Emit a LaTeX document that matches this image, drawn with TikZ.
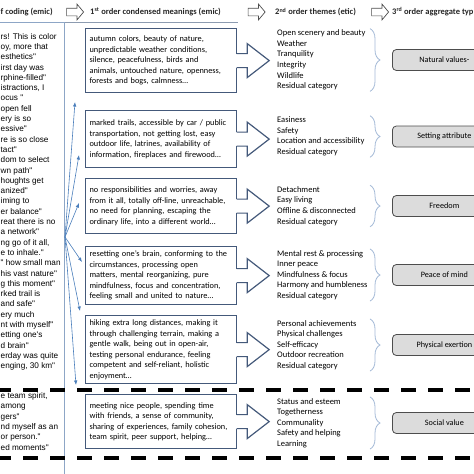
\documentclass[tikz,border=0pt]{standalone}
\usepackage{fontspec}
\setmainfont{Carlito}
\newfontfamily\quotefont{Liberation Sans}
\usetikzlibrary{arrows.meta, positioning, shapes.arrows, decorations.pathreplacing}
\definecolor{meanbd}{HTML}{44597A}
\definecolor{quotebd}{HTML}{8DA6C6}
\definecolor{bracebd}{HTML}{A3B9D6}
\definecolor{linkblue}{HTML}{4A7EBB}
\definecolor{aggfill}{HTML}{DCDCDC}
\definecolor{aggbd}{HTML}{4D4D4D}
\definecolor{headink}{HTML}{262626}
\definecolor{sepgray}{HTML}{8C9BB0}
\tikzset{
  headtext/.style={font=\fontsize{8.5}{10}\selectfont\bfseries, text=headink, inner sep=0pt, anchor=west},
  headarrow/.style={single arrow, draw=aggbd, line width=0.7pt, minimum height=17pt, inner sep=3.5pt,
    single arrow head extend=4pt, single arrow tip angle=100},
  meaning/.style={draw=meanbd, fill=white, line width=1.2pt, anchor=north west, minimum width=151pt,
    text width=143pt, inner xsep=4pt, align=left, font=\fontsize{8.3}{10.5}\selectfont},
  theme/.style={font=\fontsize{8.5}{10.6}\selectfont, align=left, inner sep=1pt, anchor=west},
  themebrace/.style={draw=bracebd, line width=0.8pt, decorate, decoration={brace, amplitude=10pt}},
  aggbox/.style={draw=aggbd, fill=aggfill, rounded corners=4pt, line width=0.8pt, minimum width=104pt,
    minimum height=21pt, anchor=west, font=\fontsize{8.2}{10}\selectfont},
  quotes/.style={font=\quotefont\fontsize{8.2}{10.3}\selectfont, align=left, inner sep=0pt, anchor=north west},
  link/.style={-{Latex[length=4.5pt, width=3.5pt]}, draw=linkblue, line width=0.6pt},
  divider/.style={draw=black, line width=3.2pt, dash pattern=on 15pt off 12pt, dash phase=4pt},
  pics/calloutarrow/.style={code={
    \fill[white] (-1.6,-7) rectangle (10,7);
    \draw[meanbd, line width=1.2pt, line join=miter] (-0.6,-7) -- (10,-7) -- (10,-17) -- (32,0)
      -- (10,17) -- (10,7) -- (-0.6,7);
  }}
}
\begin{document}
\begin{tikzpicture}[x=1pt, y=-1pt]
\useasboundingbox (0,0) rectangle (474,474);
\clip (0,0) rectangle (474,474);
% header row
\node[headtext] (h0) at (0.5,12) {f coding (emic)};
\node[headarrow] (ha0) at (73.5,12) {};
\node[headtext] (h1) at (90,12) {1\textsuperscript{st} order condensed meanings (emic)};
\node[headarrow] (ha1) at (255,12) {};
\node[headtext] (h2) at (275,12) {2\textsuperscript{nd} order themes (etic)};
\node[headarrow] (ha2) at (378.5,12) {};
\node[headtext] (h3) at (392,12) {3\textsuperscript{rd} order aggregate typ};
\draw[sepgray, line width=0.7pt] (0,22) -- (238,22);
% quotes panel
\node[draw=quotebd, line width=0.8pt, minimum width=80pt, minimum height=470pt, anchor=north east] (qbox) at (65,22) {};
\node[quotes] (q1) at (0.5,33) {rs! This is color\\oy, more that\\esthetics"\\irst day was\\rphine-filled"\\istractions, I\\ocus "\\open fell\\ery is so\\essive"\\re is so close\\tact"\\dom to select\\wn path"\\houghts get\\anized"\\iming to\\er balance"\\reat there is no\\a network"\\ng go of it all,\\e to inhale."\\" how small man\\his vast nature"\\g this moment"\\rked trail is\\and safe"\\ery much\\nt with myself"\\etting one's\\d brain"\\erday was quite\\enging, 30 km"};
\node[quotes] (q2) at (0.5,392.5) {e team spirit,\\among\\gers"\\nd myself as an\\or person."\\ed moments"};
% condensed meanings
\node[meaning, minimum height=64pt] (m1) at (85,28) {autumn colors, beauty of nature,\\unpredictable weather conditions,\\silence, peacefulness, birds and\\animals, untouched nature, openness,\\forests and bogs, calmness\dots};
\node[meaning, minimum height=57pt] (m2) at (85,110) {marked trails, accessible by car / public\\transportation, not getting lost, easy\\outdoor life, latrines, availability of\\information, fireplaces and firewood\dots};
\node[meaning, minimum height=55pt] (m3) at (85,178) {no responsibilities and worries, away\\from it all, totally off-line, unreachable,\\no need for planning, escaping the\\ordinary life, into a different world\dots};
\node[meaning, minimum height=58pt] (m4) at (85,246) {resetting one’s brain, conforming to the\\circumstances, processing open\\matters, mental reorganizing, pure\\mindfulness, focus and concentration,\\feeling small and united to nature\dots};
\node[meaning, minimum height=68pt] (m5) at (85,315) {hiking extra long distances, making it\\through challenging terrain, making a\\gentle walk, being out in open-air,\\testing personal endurance, feeling\\competent and self-reliant, holistic\\enjoyment\dots};
\node[meaning, minimum height=54pt] (m6) at (85,394) {meeting nice people, spending time\\with friends, a sense of community,\\sharing of experiences, family cohesion,\\team spirit, peer support, helping\dots};
\foreach \m in {m1,m2,m3,m4,m5,m6} \pic at (\m.east) {calloutarrow};
% themes
\node[theme] (t1) at (276,60) {Open scenery and beauty\\Weather\\Tranquility\\Integrity\\Wildlife\\Residual category};
\node[theme] (t2) at (276,136.5) {Easiness\\Safety\\Location and accessibility\\Residual category};
\node[theme] (t3) at (276,206) {Detachment\\Easy living\\Offline \& disconnected\\Residual category};
\node[theme] (t4) at (276,275) {Mental rest \& processing\\Inner peace\\Mindfulness \& focus\\Harmony and humbleness\\Residual category};
\node[theme] (t5) at (276,345) {Personal achievements\\Physical challenges\\Self-efficacy\\Outdoor recreation\\Residual category};
\node[theme] (t6) at (276,423) {Status and esteem\\Togetherness\\Communality\\Safety and helping\\Learning};
% aggregate types
\coordinate (bx) at (370,0);
\coordinate (ax) at (392,0);
\foreach \t in {t1,t2,t3,t4,t5,t6} \draw[themebrace] (\t.north -| bx) -- (\t.south -| bx);
\node[aggbox] (g1) at (t1 -| ax) {Natural values-};
\node[aggbox] (g2) at (t2 -| ax) {Setting attribute};
\node[aggbox] (g3) at (t3 -| ax) {Freedom};
\node[aggbox] (g4) at (t4 -| ax) {Peace of mind};
\node[aggbox] (g5) at (t5 -| ax) {Physical exertion};
\node[aggbox] (g6) at (t6 -| ax) {Social value};
% links from quotes
\coordinate (hub) at (65,237);
\coordinate (l1) at (75,102);
\coordinate (l2) at (79,155);
\coordinate (l3) at (79,203);
\coordinate (l4) at (82,262);
\coordinate (l5) at (80,311);
\coordinate (l6) at (76,385);
\foreach \l in {l1,l2,l3,l4,l5,l6} \draw[link] (hub) -- (\l);
% dividers
\coordinate (dl1) at (0,390); \coordinate (dr1) at (474,390);
\coordinate (dl2) at (0,458); \coordinate (dr2) at (474,458);
\draw[divider] (dl1) -- (dr1);
\draw[divider] (dl2) -- (dr2);
\end{tikzpicture}
\end{document}
